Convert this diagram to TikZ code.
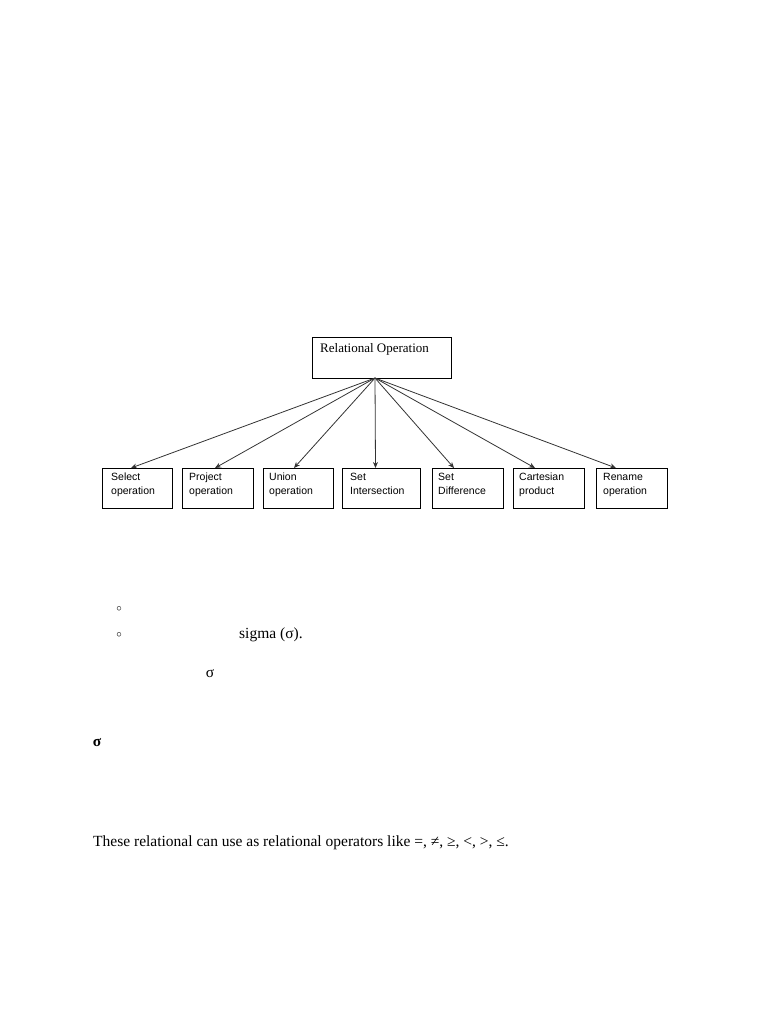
\documentclass[tikz,border=0pt]{standalone}
\usepackage{fontspec}
\setmainfont{Liberation Serif}
\newfontfamily\boxfont{Liberation Sans}
\usetikzlibrary{arrows.meta}
\begin{document}
\begin{tikzpicture}[x=1pt,y=-1pt,
  opbox/.style={draw,line width=0.9pt,inner sep=0pt},
  oplabel/.style={font=\boxfont\fontsize{10.5}{14}\selectfont,align=left,anchor=north west,inner sep=0pt},
  link/.style={draw=black!80,line width=0.8pt,-{Stealth[length=6pt,width=5pt]}}]
\useasboundingbox (0,0) rectangle (768,1024);
\node[opbox,minimum width=139pt,minimum height=41pt] (root) at (381.5,357.5) {};
\node[anchor=north west,inner sep=0pt,font=\fontsize{13}{15}\selectfont] (roott) at (320,343) {Relational Operation};
\coordinate (src) at (375,378);
\foreach \n/\xa/\xb/\ax/\t/\dx in {
  sel/102/172/131/{Select\\operation}/9,
  pro/182/253/215/{Project\\operation}/7,
  uni/263/333/294/{Union\\operation}/6,
  ins/342/420/375.5/{Set\\Intersection}/8,
  dif/432/503/454/{Set\\Difference}/6,
  car/513/584/535/{Cartesian\\product}/6,
  ren/596/667/616/{Rename\\operation}/7}{
  \node[opbox,minimum width={\xb-\xa},minimum height=40pt,anchor=north west] (\n) at (\xa,468) {};
  \node[oplabel] (\n t) at ({\xa+\dx},473) {\t};
  \coordinate (\n a) at (\ax,468);
  \draw[link] (src) -- (\n a);
}
\node[font=\fontsize{11}{12}\selectfont,inner sep=0pt] (b1) at (119,609) {$\circ$};
\node[font=\fontsize{11}{12}\selectfont,inner sep=0pt] (b2) at (119,635) {$\circ$};
\node[anchor=west,inner sep=0pt,font=\fontsize{15.5}{18}\selectfont] (t1) at (239,635) {sigma (σ).};
\node[inner sep=0pt,font=\fontsize{15.5}{18}\selectfont] (t2) at (210,674) {σ};
\node[inner sep=0pt,font=\bfseries\fontsize{15.5}{18}\selectfont] (t3) at (97,743) {σ};
\node[anchor=west,inner sep=0pt,font=\fontsize{15.5}{18}\selectfont] (t4) at (93,843) {These relational can use as relational operators like =, ≠, ≥, <, >, ≤.};
\end{tikzpicture}
\end{document}
